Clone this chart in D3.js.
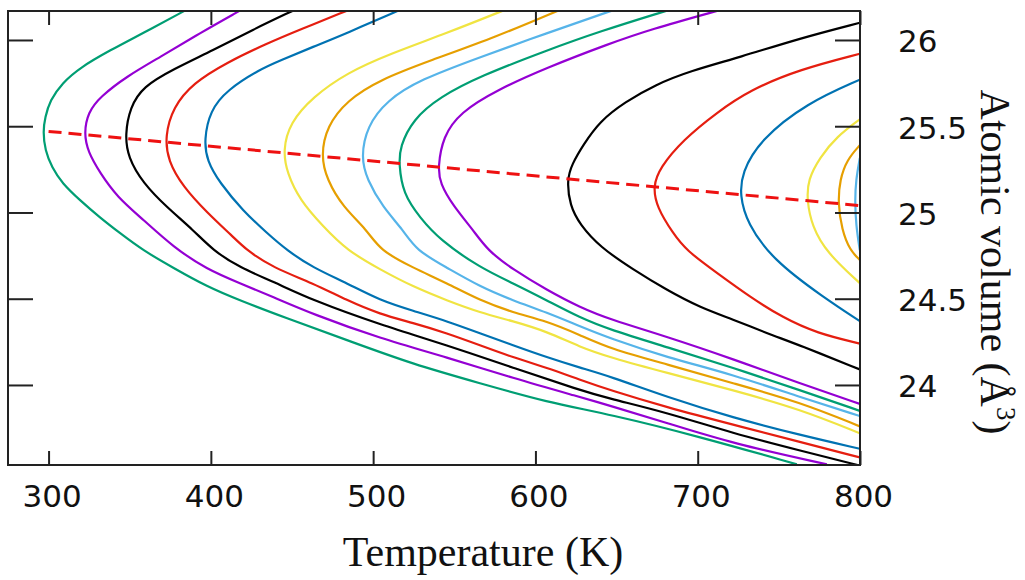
<!DOCTYPE html>
<html>
<head>
<meta charset="utf-8">
<script src="https://cdn.jsdelivr.net/npm/d3@7"></script>
<style>
  body { margin: 0; background: #fff; }
  .tick text { font-family: "DejaVu Sans", sans-serif; }
</style>
</head>
<body>
<div class="chart"></div>
<script>
var svgWidth = 1025;
var svgHeight = 580;

// frame of the plot area (pixels)
var plot = { left: 8, right: 860, top: 11, bottom: 465 };

// axis ticks
var tempTicks = [300, 400, 500, 600, 700, 800];
var volTicks = [24, 24.5, 25, 25.5, 26];

// dashed ridge line (temperature, volume)
var ridgeT = [300, 800];
var ridgeV = [25.47, 25.04];

// contour lines, [temperature K, volume A^3]
var green1 = [[384,26.17],[358.2,26.04],[337.8,25.94],[319.4,25.84],[308.3,25.75],[300.9,25.65],[297.8,25.55],[296.6,25.47],[297.8,25.36],[302.1,25.26],[308.3,25.17],[319.4,25.07],[331.7,24.97],[344,24.88],[358.2,24.78],[376.7,24.68],[397.6,24.57],[417.9,24.49],[445.7,24.39],[483.9,24.26],[524.5,24.12],[565.8,24.01],[607.1,23.90],[645.9,23.83],[701.3,23.70],[761.1,23.54]];
var purple2 = [[417.9,26.17],[393.3,26.04],[368.6,25.90],[348.3,25.79],[331.7,25.67],[324.3,25.58],[321.8,25.46],[324.3,25.35],[331.7,25.23],[342.2,25.09],[358.2,24.96],[376.7,24.80],[397.6,24.67],[417.9,24.59],[438.3,24.51],[462.9,24.41],[504.2,24.27],[545.5,24.16],[586.1,24.04],[627.4,23.93],[645.9,23.88],[681.0,23.78],[721.7,23.66],[779.6,23.54]];
var black3 = [[450.6,26.17],[425.9,26.06],[401.3,25.94],[376.7,25.83],[358.2,25.73],[350.2,25.61],[347.1,25.45],[348.9,25.32],[358.2,25.17],[372.9,25.03],[389.0,24.90],[401.3,24.78],[417.9,24.68],[438.3,24.60],[462.9,24.49],[504.2,24.35],[545.5,24.23],[586.1,24.10],[627.4,23.97],[645.9,23.92],[681.0,23.84],[721.7,23.72],[763.0,23.62],[801.1,23.53]];
var red4 = [[483.9,26.17],[454.9,26.06],[434.6,25.98],[409.9,25.87],[389.0,25.75],[376.7,25.61],[371.7,25.44],[373.6,25.30],[382.8,25.15],[397.6,25.00],[413.6,24.86],[422.2,24.78],[438.3,24.68],[462.9,24.59],[483.9,24.49],[504.2,24.41],[524.5,24.36],[545.5,24.30],[565.8,24.23],[586.1,24.16],[607.1,24.10],[627.4,24.03],[645.9,23.97],[681.0,23.87],[721.7,23.77],[763.0,23.67],[799.9,23.58]];
var blue5 = [[515.3,26.17],[483.9,26.04],[462.9,25.96],[442.6,25.88],[430.3,25.83],[409.9,25.71],[399.5,25.59],[395.8,25.42],[397.6,25.30],[405.6,25.17],[419.8,25.01],[434.6,24.88],[446.9,24.78],[462.9,24.68],[483.9,24.59],[504.2,24.49],[524.5,24.43],[545.5,24.37],[565.8,24.30],[586.1,24.23],[607.1,24.16],[627.4,24.10],[645.9,24.05],[681.0,23.93],[721.7,23.81],[763.0,23.71],[799.9,23.63]];
var yellow6 = [[580.0,26.17],[545.5,26.04],[510.4,25.92],[483.9,25.81],[462.9,25.67],[448.7,25.52],[444.4,25.36],[446.9,25.23],[454.9,25.07],[469.1,24.92],[483.9,24.78],[504.2,24.67],[524.5,24.57],[545.5,24.49],[565.8,24.42],[586.1,24.37],[607.1,24.31],[627.4,24.22],[645.9,24.16],[681.0,24.07],[721.7,23.97],[763.0,23.86],[799.9,23.72]];
var orange7 = [[613.9,26.17],[576.3,26.02],[535.0,25.88],[504.2,25.77],[483.9,25.65],[471.5,25.50],[467.8,25.33],[471.5,25.19],[481.5,25.03],[496.2,24.90],[504.2,24.78],[524.5,24.68],[545.5,24.59],[565.8,24.49],[586.1,24.42],[607.1,24.37],[627.4,24.29],[645.9,24.21],[681.0,24.12],[721.7,24.01],[763.0,23.90],[799.9,23.76]];
var lightblue8 = [[647.1,26.17],[607.1,26.04],[565.8,25.90],[528.8,25.77],[508.5,25.65],[496.2,25.50],[492.5,25.32],[496.2,25.19],[506.0,25.03],[518.4,24.90],[526.5,24.78],[545.5,24.68],[565.8,24.57],[586.1,24.49],[607.1,24.42],[627.4,24.34],[645.9,24.27],[681.0,24.16],[721.7,24.06],[763.0,23.93],[799.9,23.82]];
var green9 = [[681.0,26.17],[639.7,26.05],[607.1,25.94],[565.8,25.79],[541.2,25.67],[524.5,25.54],[516.5,25.38],[515.9,25.28],[518.4,25.11],[528.8,24.97],[541.2,24.84],[565.8,24.68],[586.1,24.59],[607.1,24.49],[627.4,24.39],[645.9,24.32],[681.0,24.22],[721.7,24.10],[763.0,23.97],[799.9,23.85]];
var purple10 = [[712.4,26.17],[670.5,26.06],[645.9,25.98],[607.1,25.84],[576.3,25.71],[553.5,25.58],[543.0,25.44],[539.9,25.26],[541.2,25.17],[549.2,25.04],[561.5,24.90],[570.5,24.78],[586.1,24.67],[607.1,24.55],[627.4,24.45],[645.9,24.38],[681.0,24.28],[721.7,24.15],[763.0,24.01],[799.9,23.89]];
var black11 = [[799.9,26.10],[763.0,26.01],[726.0,25.90],[695.2,25.82],[673.7,25.74],[655.1,25.64],[639.7,25.53],[629.3,25.39],[622.5,25.28],[619.4,25.19],[621.2,25.04],[627.4,24.93],[639.7,24.80],[660.1,24.67],[681.0,24.55],[701.3,24.45],[721.7,24.38],[742.6,24.30],[763.0,24.23],[799.9,24.09]];
var red12 = [[799.9,25.92],[763.0,25.83],[732.2,25.71],[711.8,25.58],[690.9,25.42],[676.7,25.26],[672.4,25.15],[674.8,25.03],[684.7,24.88],[692.9,24.78],[711.8,24.65],[732.2,24.51],[752.5,24.39],[773.4,24.30],[799.9,24.24]];
var blue13 = [[799.9,25.77],[767.3,25.635],[738.3,25.42],[727.2,25.23],[726.0,25.10],[730.3,24.94],[746.3,24.725],[777.2,24.51],[799.9,24.37]];
var yellow14 = [[799.9,25.54],[785.7,25.44],[775.3,25.32],[767.9,25.19],[767.3,25.07],[770.4,24.92],[779.6,24.765],[799.9,24.59]];
var orange15 = [[799.9,25.39],[791.9,25.305],[787.6,25.19],[786.4,25.055],[788.8,24.90],[793.8,24.78],[799.9,24.725]];
var lightblue16 = [[799.9,25.316],[797.5,25.19],[796.9,25.07],[797.5,24.93],[799.9,24.78]];

var contours = [green1, purple2, black3, red4, blue5, yellow6, orange7, lightblue8,
  green9, purple10, black11, red12, blue13, yellow14, orange15, lightblue16];
var contourColors = ["#009e73", "#9400d3", "#000000", "#e51e10", "#0072b2", "#f0e442", "#e69f00", "#56b4e9",
  "#009e73", "#9400d3", "#000000", "#e51e10", "#0072b2", "#f0e442", "#e69f00", "#56b4e9"];

// D3 Wrapper
var svg = d3.select(".chart")
  .append("svg")
  .attr("width", svgWidth)
  .attr("height", svgHeight);

var xScale = d3.scaleLinear()
  .domain([275, 800])
  .range([plot.left, plot.right]);

var yScale = d3.scaleLinear()
  .domain([23.536, 26.168])
  .range([plot.bottom, plot.top]);

svg.append("clipPath")
  .attr("id", "plotclip")
  .append("rect")
  .attr("x", plot.left)
  .attr("y", plot.top)
  .attr("width", plot.right - plot.left)
  .attr("height", plot.bottom - plot.top);

// smooth contours (B-spline irons out reading noise)
var lineGen = d3.line()
  .x(d => xScale(d[0]))
  .y(d => yScale(d[1]))
  .curve(d3.curveBasis);

var lines = svg.append("g").attr("clip-path", "url(#plotclip)");

lines.selectAll("path.contour")
  .data(contours)
  .enter()
  .append("path")
  .attr("class", "contour")
  .attr("d", d => lineGen(d))
  .attr("fill", "none")
  .attr("stroke", (d, i) => contourColors[i])
  .attr("stroke-width", 2.2);

// dashed red ridge
var ridgeLine = d3.line()
  .x(d => xScale(d[0]))
  .y(d => yScale(d[1]));

lines.append("path")
  .attr("d", ridgeLine(ridgeT.map((t, i) => [t, ridgeV[i]])))
  .attr("fill", "none")
  .attr("stroke", "#ee1111")
  .attr("stroke-width", 3)
  .attr("stroke-dasharray", "13,7");

// axes, ticks pointing inward
var bottomAxis = d3.axisBottom(xScale).tickValues(tempTicks).tickSizeInner(-14).tickSizeOuter(0).tickPadding(20);
var topAxis = d3.axisTop(xScale).tickValues(tempTicks).tickSizeInner(-14).tickSizeOuter(0).tickFormat("");
var leftAxis = d3.axisLeft(yScale).tickValues(volTicks).tickSizeInner(-25).tickSizeOuter(0).tickFormat("");
var rightAxis = d3.axisRight(yScale).tickValues(volTicks).tickSizeInner(-25).tickSizeOuter(0).tickPadding(38)
  .tickFormat(d => String(d));

function styleAxis(g) {
  g.select(".domain").remove();
  g.selectAll("line").attr("stroke", "#222").attr("stroke-width", 2);
  g.selectAll("text").attr("fill", "#111").attr("font-size", 31);
}

svg.append("g")
  .attr("transform", `translate(0, ${plot.bottom})`)
  .call(bottomAxis)
  .call(styleAxis)
  .selectAll("text").attr("dx", 3);

svg.append("g")
  .attr("transform", `translate(0, ${plot.top})`)
  .call(topAxis)
  .call(styleAxis);

svg.append("g")
  .attr("transform", `translate(${plot.left}, 0)`)
  .call(leftAxis)
  .call(styleAxis);

svg.append("g")
  .attr("transform", `translate(${plot.right}, 0)`)
  .call(rightAxis)
  .call(styleAxis)
  .selectAll("text").attr("dy", "0.38em");

// frame
svg.append("rect")
  .attr("x", plot.left)
  .attr("y", plot.top)
  .attr("width", plot.right - plot.left)
  .attr("height", plot.bottom - plot.top)
  .attr("fill", "none")
  .attr("stroke", "#222")
  .attr("stroke-width", 2);

// axis titles
svg.append("text")
  .attr("x", 483)
  .attr("y", 566)
  .attr("text-anchor", "middle")
  .attr("font-family", "'Liberation Serif', 'Times New Roman', serif")
  .attr("font-size", 42)
  .attr("fill", "#111")
  .text("Temperature (K)");

var yTitle = svg.append("text")
  .attr("transform", "translate(981, 262) rotate(90)")
  .attr("text-anchor", "middle")
  .attr("font-family", "'Liberation Serif', 'Times New Roman', serif")
  .attr("font-size", 42)
  .attr("fill", "#111");

yTitle.append("tspan").text("Atomic volume (Å");
yTitle.append("tspan").attr("dy", -16).attr("font-size", 27).text("3");
yTitle.append("tspan").attr("dy", 16).text(")");
</script>
</body>
</html>
